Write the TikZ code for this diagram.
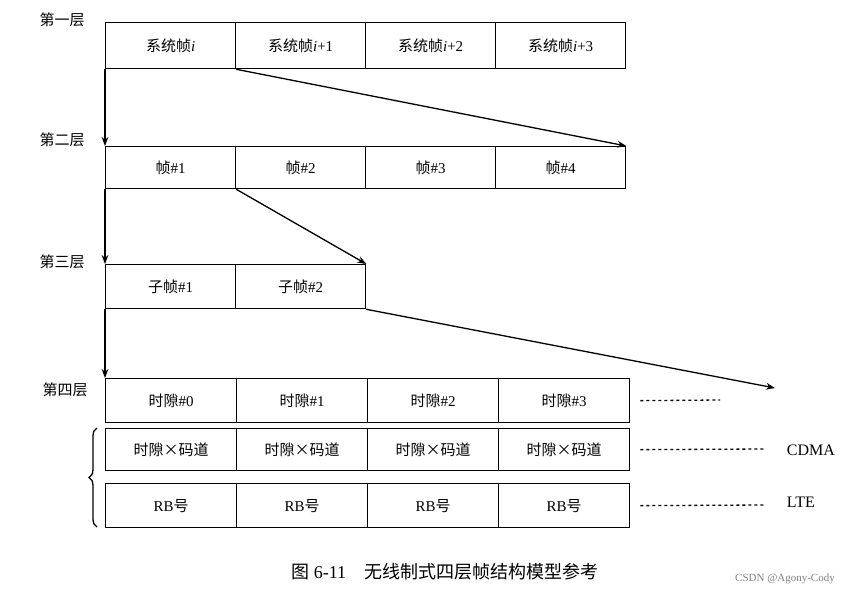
\documentclass[tikz,border=0pt]{standalone}
\usepackage{fontspec}
\setmainfont{Liberation Serif}
\newfontfamily\cjk{Noto Sans CJK SC}
\usetikzlibrary{arrows.meta,decorations.pathreplacing}
\begin{document}
\begin{tikzpicture}[x=1pt,y=-1pt,line width=1.3pt,
  cell/.style={draw,minimum height=44,anchor=north west,inner sep=0,font=\fontsize{15}{15}\cjk},
  lab/.style={font=\fontsize{15}{15}\cjk},
  arr/.style={-{Stealth[length=9pt]}},
  dl/.style={dashed}]
\useasboundingbox (0,0) rectangle (865,599);
\node[lab] (l1) at (62,20) {第一层};
\node[lab] (l2) at (62,140) {第二层};
\node[lab] (l3) at (62,262) {第三层};
\node[lab] (l4) at (65,390) {第四层};
% row 1
\foreach \x/\t [count=\i] in {105/系统帧\textrm{\textit{i}},235/系统帧\textrm{\textit{i}+1},365/系统帧\textrm{\textit{i}+2},495/系统帧\textrm{\textit{i}+3}}
  \node[cell,minimum width=130,minimum height=46] (a\i) at (\x,22) {\t};
% row 2
\foreach \x/\t [count=\i] in {105/帧\textrm{\#1},235/帧\textrm{\#2},365/帧\textrm{\#3},495/帧\textrm{\#4}}
  \node[cell,minimum width=130,minimum height=42] (b\i) at (\x,146) {\t};
% row 3
\foreach \x/\t [count=\i] in {105/子帧\textrm{\#1},235/子帧\textrm{\#2}}
  \node[cell,minimum width=130,minimum height=44] (c\i) at (\x,264) {\t};
% row 4
\foreach \x/\t [count=\i] in {105/时隙\textrm{\#0},236/时隙\textrm{\#1},367/时隙\textrm{\#2},498/时隙\textrm{\#3}}
  \node[cell,minimum width=131,minimum height=44] (d\i) at (\x,378) {\t};
\foreach \x [count=\i] in {105,236,367,498}
  \node[cell,minimum width=131,minimum height=42] (e\i) at (\x,428) {时隙×码道};
\foreach \x [count=\i] in {105,236,367,498}
  \node[cell,minimum width=131,minimum height=44] (f\i) at (\x,483) {\textrm{RB}号};
% arrows
\draw[arr] (a1.south west) -- (b1.north west);
\draw[arr] (b1.south west) -- (c1.north west);
\draw[arr] (c1.south west) -- (d1.north west);
\draw[arr] (a1.south east) -- (b4.north east);
\draw[arr] (b1.south east) -- (c2.north east);
\coordinate (far) at (775,388);
\draw[arr] (c2.south east) -- (far);
% dashed
\coordinate (q1) at (720,400);
\coordinate (q2) at (765,449);
\coordinate (q3) at (765,505);
\draw[dl] ([xshift=10pt]d4.east) -- (q1);
\draw[dl] ([xshift=10pt]e4.east) -- (q2);
\draw[dl] ([xshift=10pt]f4.east) -- (q3);
\node[font=\fontsize{16}{16}\selectfont,anchor=west] (cdma) at (783,450) {CDMA};
\node[font=\fontsize{16}{16}\selectfont,anchor=west] (lte) at (783,502) {LTE};
\draw[decorate,decoration={brace,amplitude=8pt}] (97,527) -- (97,428);
\node[font=\fontsize{18}{18}\cjk] (cap) at (445,572) {图 \textrm{6-11}\quad 无线制式四层帧结构模型参考};
\node[font=\fontsize{11}{11}\selectfont,text=gray] (wm) at (785,579) {CSDN @Agony-Cody};
\end{tikzpicture}
\end{document}
